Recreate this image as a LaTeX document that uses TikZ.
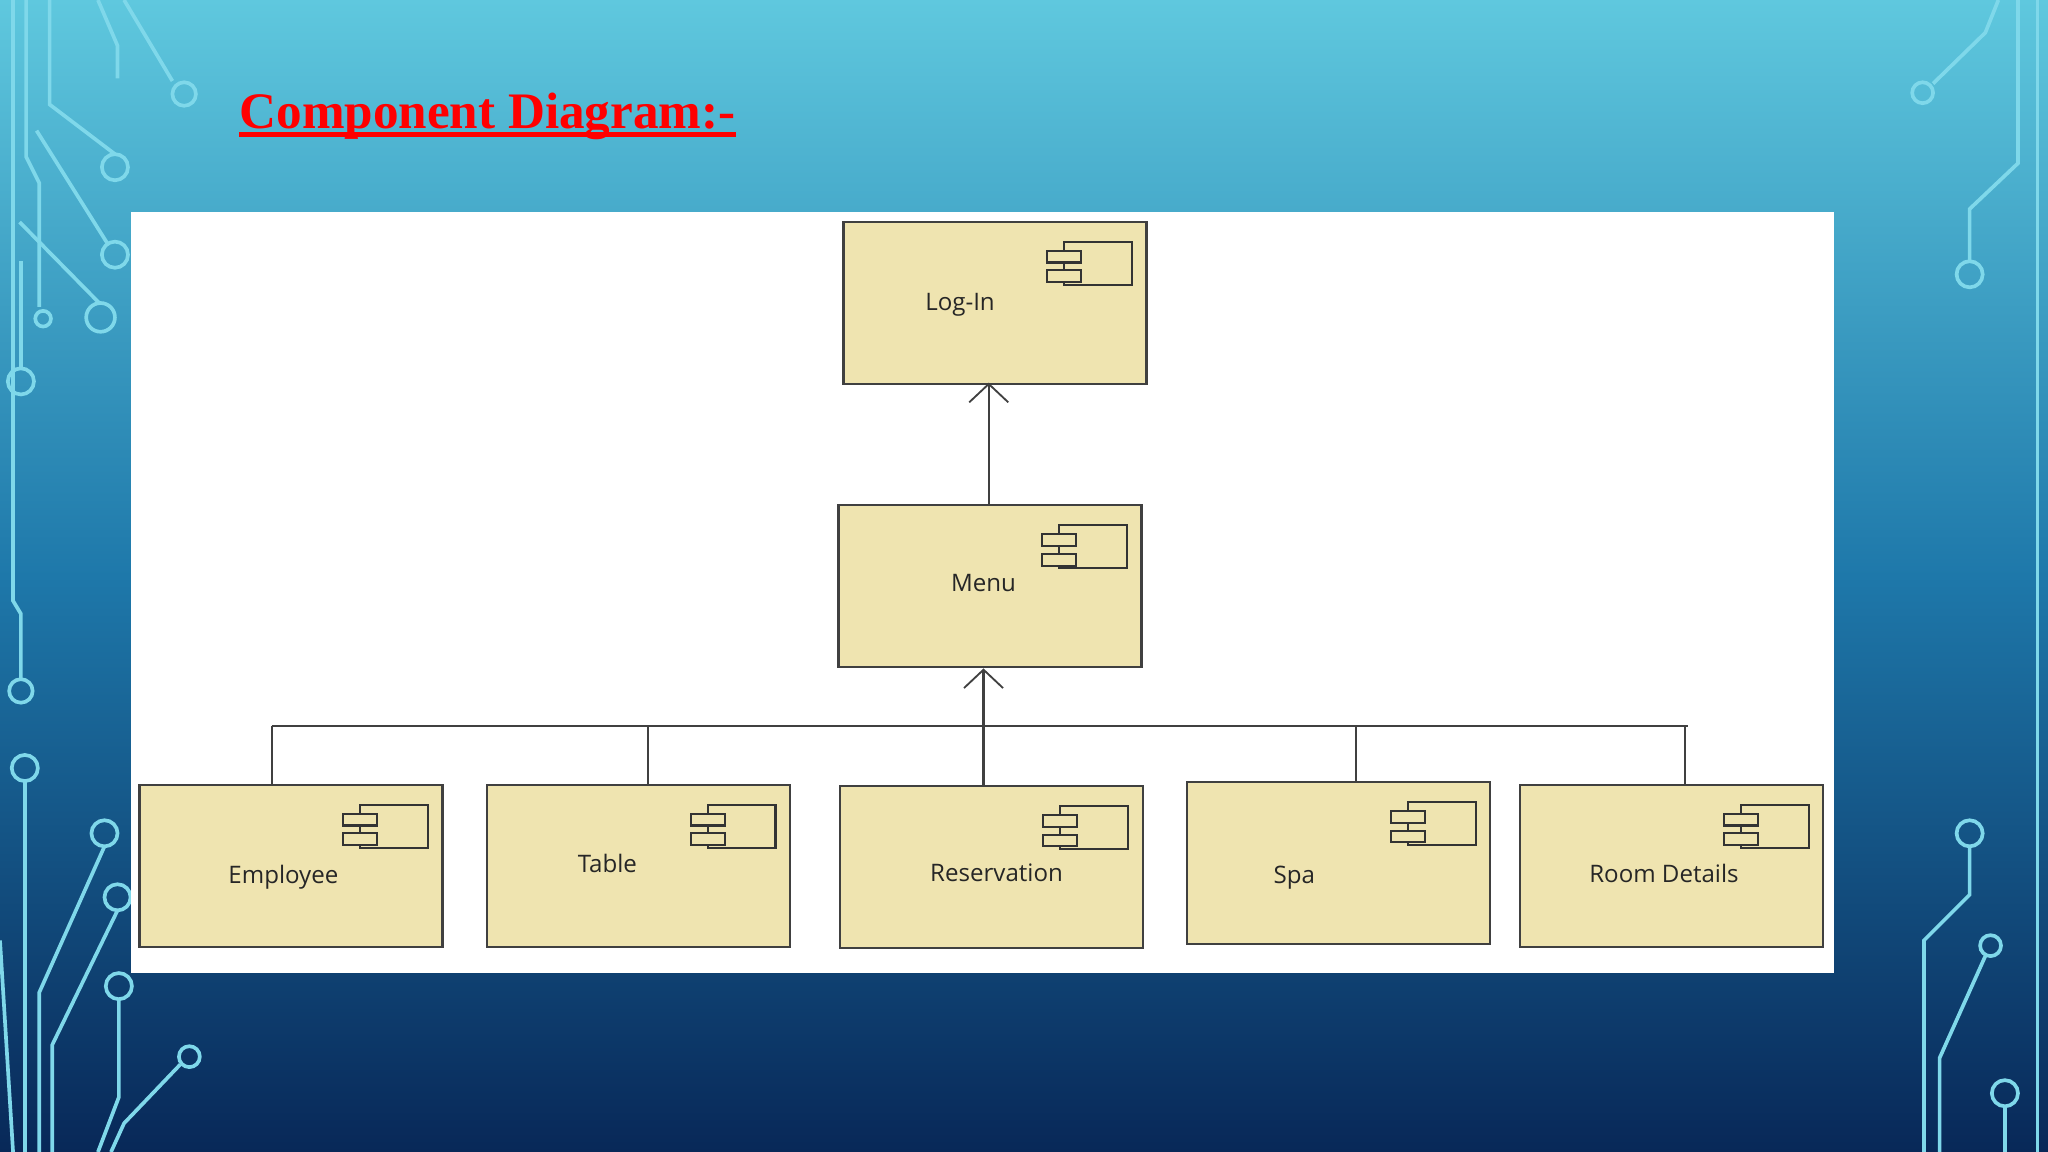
\documentclass[tikz,border=0pt]{standalone}
\usepackage{fontspec}
\setmainfont{Liberation Serif}
\newfontfamily\boxfont{Open Sans}
\usetikzlibrary{arrows.meta,calc}
\definecolor{comp}{HTML}{EFE4B0}
\definecolor{circ}{HTML}{7FD8EA}
\begin{document}
\begin{tikzpicture}[x=0.02cm,y=-0.02cm,
  compbox/.style={draw=black!75,line width=1pt,fill=comp,minimum width=232*0.02cm,minimum height=124*0.02cm,inner sep=0pt},
  lbl/.style={font=\boxfont\fontsize{10.5}{13}\selectfont,text=black!85},
  conn/.style={draw=black!75,line width=0.9pt},
  arr/.style={conn,-{Straight Barb[length=8pt,width=17pt,line width=0.8pt]}},
  icon/.style={draw=black!80,line width=0.9pt,fill=comp},
  trace/.style={draw=circ,line width=1.6pt},
  pad/.style={draw=circ,line width=1.6pt,fill=none}]
\useasboundingbox (0,0) rectangle (1568,882);
\shade[top color={rgb,255:red,95;green,200;blue,222}, bottom color={rgb,255:red,8;green,40;blue,88}, middle color={rgb,255:red,30;green,120;blue,170}] (0,0) rectangle (1568,882);
% circuit traces left
\draw[trace] (10,0) -- (10,460) -- (16,470) -- (16,520);
\draw[pad] (16,529) circle (9);
\draw[trace] (20,0) -- (20,120) -- (30,140) -- (30,235);
\draw[pad] (33,244) circle (6);
\draw[trace] (38,0) -- (38,80) -- (88,118);
\draw[pad] (88,128) circle (10);
\draw[trace] (75,0) -- (90,35) -- (90,60);
\draw[trace] (95,0) -- (132,62);
\draw[pad] (141,72) circle (9);
\draw[trace] (15,170) -- (76,232);
\draw[pad] (77,243) circle (11);
\draw[trace] (28,100) -- (82,186);
\draw[pad] (88,195) circle (10);
\draw[trace] (16,200) -- (16,283);
\draw[pad] (16,292) circle (10);
\draw[trace] (19,598) -- (19,882);
\draw[pad] (19,588) circle (10);
\draw[trace] (0,720) -- (10,882);
\draw[trace] (80,648) -- (30,760) -- (30,882);
\draw[pad] (80,638) circle (10);
\draw[trace] (90,697) -- (40,800) -- (40,882);
\draw[pad] (90,687) circle (10);
\draw[trace] (91,765) -- (91,840) -- (75,882);
\draw[pad] (91,755) circle (10);
\draw[trace] (138,815) -- (95,860) -- (85,882);
\draw[pad] (145,809) circle (8);
% right
\draw[trace] (1530,0) -- (1520,25) -- (1480,64);
\draw[pad] (1472,71) circle (8);
\draw[trace] (1545,0) -- (1545,125) -- (1508,160) -- (1508,200);
\draw[pad] (1508,210) circle (10);
\draw[trace] (1508,648) -- (1508,685) -- (1473,720) -- (1473,882);
\draw[pad] (1508,638) circle (10);
\draw[trace] (1520,732) -- (1485,810) -- (1485,882);
\draw[pad] (1524,724) circle (8);
\draw[trace] (1535,847) -- (1535,882);
\draw[pad] (1535,837) circle (10);
\draw[trace] (1560,0) -- (1560,882);
% panel
\fill[white] (100,162) rectangle (1404,745);
\node[anchor=base west,inner sep=0pt,text=red,font=\fontsize{22.3}{26}\selectfont\bfseries] (title) at (183,98) {Component Diagram:-};
\draw[red,line width=1.8pt] ($(title.base west)+(0,5)$) -- ($(title.base east)+(0,5)$);
% boxes
\node[compbox,anchor=north west] (login) at (645,169) {};
\node[compbox,anchor=north west] (menu) at (641,386) {};
\node[compbox,anchor=north west] (emp) at (106,600) {};
\node[compbox,anchor=north west] (tab) at (372,600) {};
\node[compbox,anchor=north west] (res) at (642,601) {};
\node[compbox,anchor=north west] (spa) at (908,598) {};
\node[compbox,anchor=north west] (room) at (1163,600) {};
\node[lbl] (tlogin) at (735,233) {Log-In};
\node[lbl] (tmenu) at (753,446) {Menu};
\node[lbl] (temp) at (217,672) {Employee};
\node[lbl] (ttab) at (465,661) {Table};
\node[lbl] (tres) at (763,668) {Reservation};
\node[lbl] (tspa) at (991,672) {Spa};
\node[lbl] (troom) at (1274,669) {Room Details};
\foreach \b in {login,menu,emp,tab,res,spa,room}{
  \draw[icon] ($(\b.north east)+(-64,16)$) rectangle ($(\b.north east)+(-12,49)$);
  \draw[icon] ($(\b.north east)+(-77,23)$) rectangle ($(\b.north east)+(-51,32)$);
  \draw[icon] ($(\b.north east)+(-77,38)$) rectangle ($(\b.north east)+(-51,47)$);
}
% connectors
\coordinate (busL) at (208,556);
\coordinate (busR) at (1292,556);
\coordinate (busM) at (753,556);
\draw[conn] (busL) -- (busR);
\draw[conn] (busL) -- (busL |- emp.north);
\draw[conn] (496,556) -- (496,600);
\draw[conn] (busM) -- (res.north -| busM);
\draw[conn] (1038,556) -- (1038,598);
\draw[conn] (1290,556) -- (1290,600);
\draw[arr] (busM) -- (busM |- menu.south);
\draw[arr] (757,386) -- (757,293);
\end{tikzpicture}
\end{document}
